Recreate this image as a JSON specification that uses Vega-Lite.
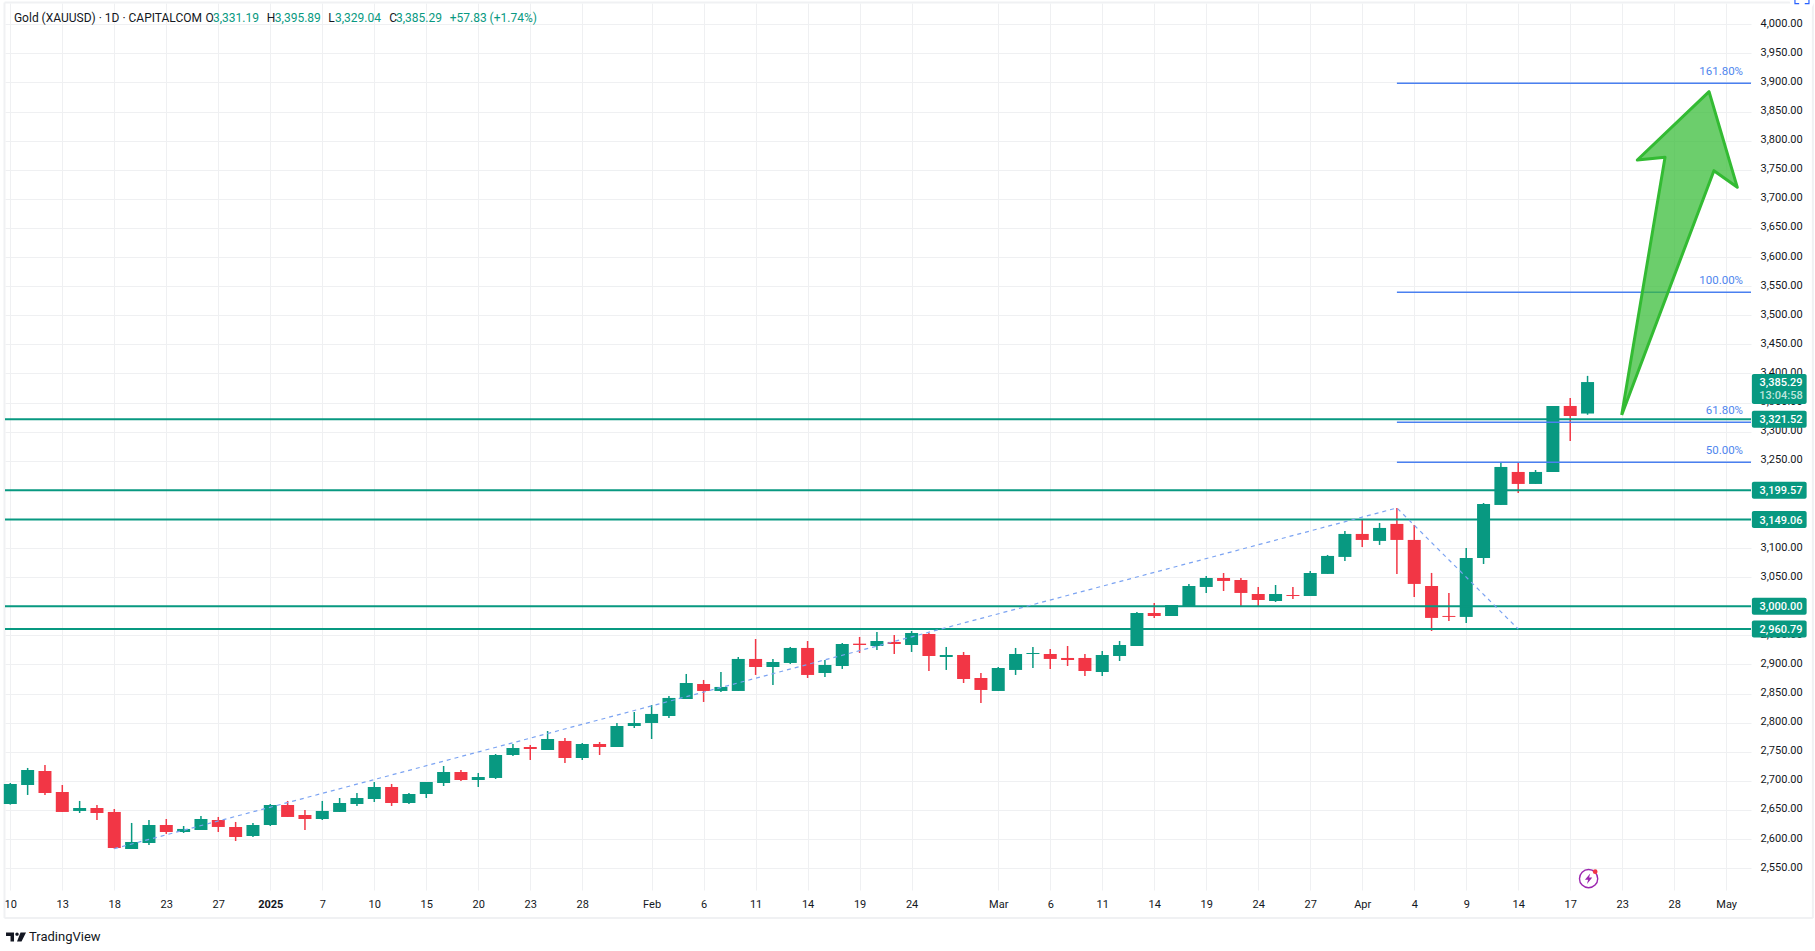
{"$schema":"https://vega.github.io/schema/vega-lite/v6.json","autosize":{"type":"none"},"width":1746,"height":887,"padding":{"left":5,"top":3,"right":64,"bottom":61},"background":"white","view":{"stroke":null},"config":{"font":"Roboto","axis":{"labelFont":"Roboto","labelFontSize":11,"labelColor":"#131722","gridColor":"#eff0f2","gridWidth":1,"domain":false,"ticks":false,"title":null,"labelOverlap":false}},"resolve":{"scale":{"color":"independent"},"axis":{"x":"independent","y":"independent"}},"datasets":{"candles":[
{"bar":0,"open":2660.3,"high":2696.4,"low":2659.2,"close":2694.7},
{"bar":1,"open":2692.9,"high":2722.2,"low":2675.8,"close":2718.7},
{"bar":2,"open":2717,"high":2727.3,"low":2675.8,"close":2679.2},
{"bar":3,"open":2680.9,"high":2692.9,"low":2646.6,"close":2646.6},
{"bar":4,"open":2648.3,"high":2665.5,"low":2644.8,"close":2653.4},
{"bar":5,"open":2653.4,"high":2658.6,"low":2632.8,"close":2644.8},
{"bar":6,"open":2646.6,"high":2651.7,"low":2583.6,"close":2584.7},
{"bar":7,"open":2583,"high":2627.7,"low":2583,"close":2595},
{"bar":8,"open":2593.3,"high":2632.8,"low":2589.9,"close":2624.2},
{"bar":9,"open":2624.2,"high":2634.5,"low":2608.8,"close":2612.2},
{"bar":10,"open":2612.2,"high":2622.5,"low":2610.5,"close":2617.4},
{"bar":11,"open":2615.6,"high":2639.7,"low":2615.6,"close":2634.5},
{"bar":12,"open":2632.8,"high":2638,"low":2612.2,"close":2620.8},
{"bar":13,"open":2620.8,"high":2629.4,"low":2596.7,"close":2603.6},
{"bar":14,"open":2605.3,"high":2627.7,"low":2603.6,"close":2624.2},
{"bar":15,"open":2624.2,"high":2660.3,"low":2622.5,"close":2658.6},
{"bar":16,"open":2658.6,"high":2665.5,"low":2638,"close":2638},
{"bar":17,"open":2641.4,"high":2650,"low":2615.6,"close":2634.5},
{"bar":18,"open":2634.5,"high":2665.5,"low":2632.8,"close":2648.3},
{"bar":19,"open":2646.6,"high":2670.6,"low":2646.6,"close":2662},
{"bar":20,"open":2660.3,"high":2679.2,"low":2656.9,"close":2670.6},
{"bar":21,"open":2668.9,"high":2698.1,"low":2663.7,"close":2689.5},
{"bar":22,"open":2689.5,"high":2694.7,"low":2656.9,"close":2662},
{"bar":23,"open":2662,"high":2679.2,"low":2660.3,"close":2677.5},
{"bar":24,"open":2677.5,"high":2698.1,"low":2670.6,"close":2698.1},
{"bar":25,"open":2696.4,"high":2725.6,"low":2691.2,"close":2715.3},
{"bar":26,"open":2715.3,"high":2718.7,"low":2699.8,"close":2701.5},
{"bar":27,"open":2701.5,"high":2713.6,"low":2689.5,"close":2706.7},
{"bar":28,"open":2705,"high":2746.2,"low":2703.3,"close":2744.5},
{"bar":29,"open":2744.5,"high":2763.4,"low":2742.8,"close":2756.5},
{"bar":30,"open":2758.2,"high":2761.7,"low":2735.9,"close":2754.8},
{"bar":31,"open":2753.1,"high":2785.7,"low":2753.1,"close":2772},
{"bar":32,"open":2768.6,"high":2773.7,"low":2730.7,"close":2739.3},
{"bar":33,"open":2739.3,"high":2765.1,"low":2735.9,"close":2763.4},
{"bar":34,"open":2763.4,"high":2766.8,"low":2744.5,"close":2758.2},
{"bar":35,"open":2758.2,"high":2799.5,"low":2758.2,"close":2794.3},
{"bar":36,"open":2794.3,"high":2818.4,"low":2790.9,"close":2799.5},
{"bar":37,"open":2799.5,"high":2830.4,"low":2772,"close":2815},
{"bar":38,"open":2811.5,"high":2845.9,"low":2808.1,"close":2842.5},
{"bar":39,"open":2840.7,"high":2883.7,"low":2840.7,"close":2868.2},
{"bar":40,"open":2866.5,"high":2873.4,"low":2835.6,"close":2854.5},
{"bar":41,"open":2854.5,"high":2887.1,"low":2852.8,"close":2861.4},
{"bar":42,"open":2854.5,"high":2912.9,"low":2854.5,"close":2909.5},
{"bar":43,"open":2909.5,"high":2943.8,"low":2882,"close":2895.7},
{"bar":44,"open":2895.7,"high":2909.5,"low":2864.8,"close":2904.3},
{"bar":45,"open":2902.6,"high":2930.1,"low":2900.9,"close":2928.4},
{"bar":46,"open":2928.4,"high":2940.4,"low":2876.8,"close":2882},
{"bar":47,"open":2885.4,"high":2907.7,"low":2878.5,"close":2899.1},
{"bar":48,"open":2897.4,"high":2936.9,"low":2892.3,"close":2935.2},
{"bar":49,"open":2935.8,"high":2947.3,"low":2919.8,"close":2933.5},
{"bar":50,"open":2931.8,"high":2955.8,"low":2924.9,"close":2940.4},
{"bar":51,"open":2938.7,"high":2950.7,"low":2918,"close":2935.2},
{"bar":52,"open":2933.5,"high":2957.6,"low":2921.5,"close":2954.1},
{"bar":53,"open":2952.4,"high":2954.1,"low":2888.8,"close":2914.6},
{"bar":54,"open":2912.9,"high":2930.1,"low":2890.6,"close":2916.3},
{"bar":55,"open":2916.3,"high":2921.5,"low":2868.2,"close":2875.1},
{"bar":56,"open":2876.8,"high":2885.4,"low":2833.9,"close":2856.2},
{"bar":57,"open":2854.5,"high":2895.7,"low":2854.5,"close":2894},
{"bar":58,"open":2890.6,"high":2928.4,"low":2882,"close":2918},
{"bar":59,"open":2918,"high":2930.1,"low":2894,"close":2919.8},
{"bar":60,"open":2918,"high":2926.6,"low":2892.3,"close":2909.5},
{"bar":61,"open":2911.2,"high":2931.8,"low":2897.4,"close":2907.7},
{"bar":62,"open":2911.2,"high":2918,"low":2880.2,"close":2888.8},
{"bar":63,"open":2887.1,"high":2923.2,"low":2880.2,"close":2916.3},
{"bar":64,"open":2914.6,"high":2940.4,"low":2906,"close":2933.5},
{"bar":65,"open":2931.8,"high":2990.2,"low":2931.8,"close":2988.5},
{"bar":66,"open":2988.5,"high":3005.7,"low":2979.9,"close":2983.3},
{"bar":67,"open":2983.3,"high":3002.2,"low":2983.3,"close":3002.2},
{"bar":68,"open":3000.5,"high":3038.3,"low":3000.5,"close":3034.9},
{"bar":69,"open":3033.2,"high":3052.1,"low":3022.9,"close":3048.6},
{"bar":70,"open":3048.6,"high":3057.2,"low":3026.3,"close":3043.5},
{"bar":71,"open":3045.2,"high":3048.6,"low":3000.5,"close":3022.9},
{"bar":72,"open":3021.1,"high":3033.2,"low":3000.5,"close":3010.8},
{"bar":73,"open":3009.1,"high":3036.6,"low":3007.4,"close":3021.1},
{"bar":74,"open":3019.4,"high":3033.2,"low":3012.5,"close":3017.7},
{"bar":75,"open":3017.7,"high":3060.7,"low":3017.7,"close":3057.2},
{"bar":76,"open":3055.6,"high":3088.2,"low":3055.6,"close":3086.5},
{"bar":77,"open":3084.8,"high":3129.4,"low":3077.9,"close":3124.3},
{"bar":78,"open":3124.3,"high":3150,"low":3102,"close":3114},
{"bar":79,"open":3112.3,"high":3143.2,"low":3105.4,"close":3134.6},
{"bar":80,"open":3141.5,"high":3169,"low":3055.6,"close":3114},
{"bar":81,"open":3114,"high":3139.8,"low":3016,"close":3038.4},
{"bar":82,"open":3034.9,"high":3057.3,"low":2957.6,"close":2980},
{"bar":83,"open":2983.4,"high":3022.9,"low":2974.8,"close":2981.7},
{"bar":84,"open":2981.7,"high":3100.2,"low":2971.4,"close":3083},
{"bar":85,"open":3083,"high":3177.5,"low":3072.7,"close":3175.8},
{"bar":86,"open":3174.1,"high":3246.3,"low":3174.1,"close":3239.4},
{"bar":87,"open":3230.8,"high":3246.3,"low":3194.7,"close":3210.2},
{"bar":88,"open":3210.2,"high":3234.2,"low":3210.2,"close":3230.8},
{"bar":89,"open":3230.8,"high":3344.2,"low":3230.8,"close":3344.2},
{"bar":90,"open":3344.2,"high":3358,"low":3284.1,"close":3327},
{"bar":91,"open":3331.19,"high":3395.89,"low":3329.04,"close":3385.29}
],"levels":[{"price":3321.52,"label":"3,321.52"},{"price":3199.57,"label":"3,199.57"},{"price":3149.06,"label":"3,149.06"},{"price":3000,"label":"3,000.00"},{"price":2960.79,"label":"2,960.79"}]},
"layer":[
{"data":{"values":[{"bar":-0.335,"bar2":104,"price":4037.5,"price2":4037.5},{"bar":-0.335,"bar2":104,"price":2464.5,"price2":2464.5},{"bar":-0.335,"bar2":-0.335,"price":4037.5,"price2":2464.5},{"bar":104,"bar2":104,"price":4037.5,"price2":2464.5}]},
"mark":{"type":"rule","color":"#f0f1f3","strokeWidth":2},
"encoding":{"x":{"field":"bar","type":"quantitative","scale":{"domain":[-0.306,100.43],"nice":false,"zero":false,"padding":0},"axis":{"title":null,"grid":true,"orient":"bottom","values":[0,3,6,9,12,15,18,21,24,27,30,33,37,40,43,46,49,52,57,60,63,66,69,72,75,78,81,84,87,90,93,96,99],"labelExpr":"({'0':'10','3':'13','6':'18','9':'23','12':'27','15':'2025','18':'7','21':'10','24':'15','27':'20','30':'23','33':'28','37':'Feb','40':'6','43':'11','46':'14','49':'19','52':'24','57':'Mar','60':'6','63':'11','66':'14','69':'19','72':'24','75':'27','78':'Apr','81':'4','84':'9','87':'14','90':'17','93':'23','96':'28','99':'May'})[''+datum.value]","labelFontWeight":{"condition":{"test":"datum.value===15","value":"bold"},"value":"normal"},"labelOverlap":false,"labelFlush":false,"labelAngle":0,"labelPadding":8},"title":null},"x2":{"field":"bar2"},"y":{"field":"price","type":"quantitative","scale":{"domain":[2512.5,4036.6],"nice":false,"zero":false,"padding":0},"axis":{"title":null,"grid":true,"orient":"right","values":[2550,2600,2650,2700,2750,2800,2850,2900,2950,3000,3050,3100,3150,3200,3250,3300,3350,3400,3450,3500,3550,3600,3650,3700,3750,3800,3850,3900,3950,4000],"format":",.2f","labelOverlap":false,"labelFlush":false,"labelPadding":9,"labelOffset":-1},"title":null},"y2":{"field":"price2"}}},
{"data":{"name":"candles"},"mark":{"type":"rule","strokeWidth":1.5},"encoding":{"x":{"field":"bar","type":"quantitative","axis":null},"y":{"field":"low","type":"quantitative","axis":null},"y2":{"field":"high"},"color":{"condition":{"test":"datum.close>=datum.open","value":"#089981"},"value":"#F23645"}}},
{"data":{"name":"candles"},"mark":{"type":"bar","size":13},"encoding":{"x":{"field":"bar","type":"quantitative","axis":null},"y":{"field":"open","type":"quantitative","axis":null},"y2":{"field":"close"},"color":{"condition":{"test":"datum.close>=datum.open","value":"#089981"},"value":"#F23645"}}},
{"data":{"name":"levels"},"mark":{"type":"rule","color":"#089981","strokeWidth":2},"encoding":{"y":{"field":"price","type":"quantitative","axis":null}}},
{"data":{"values":[{"ratio":"161.80%","start":80,"price":3898.6},{"ratio":"100.00%","start":80,"price":3539.5},{"ratio":"61.80%","start":80,"price":3316.2},{"ratio":"50.00%","start":80,"price":3247.4}]},"mark":{"type":"rule","color":"#4a80f0","strokeWidth":1.5},"encoding":{"x":{"field":"start","type":"quantitative","axis":null},"x2":{"datum":100.43},"y":{"field":"price","type":"quantitative","axis":null}}},
{"data":{"values":[{"ratio":"161.80%","bar":99.97,"price":3920.3},{"ratio":"100.00%","bar":99.97,"price":3561.9},{"ratio":"61.80%","bar":99.97,"price":3338.5},{"ratio":"50.00%","bar":99.97,"price":3269.7}]},"mark":{"type":"text","align":"right","baseline":"middle","fontSize":11.5,"color":"#4f86ee","dy":1.5},"encoding":{"x":{"field":"bar","type":"quantitative","axis":null},"y":{"field":"price","type":"quantitative","axis":null},"text":{"field":"ratio"}}},
{"data":{"values":[{"seq":1,"bar":6,"price":2583.6},{"seq":2,"bar":80,"price":3169},{"seq":3,"bar":87,"price":2960.8}]},"mark":{"type":"line","color":"#7ba3f2","strokeWidth":1.2,"strokeDash":[4,4]},"encoding":{"x":{"field":"bar","type":"quantitative","axis":null},"y":{"field":"price","type":"quantitative","axis":null},"order":{"field":"seq"}}},
{"data":{"values":[{"seq":1,"bar":92.97,"price":3328.7},{"seq":2,"bar":95.47,"price":3771.5},{"seq":3,"bar":93.87,"price":3766.8},{"seq":4,"bar":98.01,"price":3884.2},{"seq":5,"bar":99.64,"price":3719.9},{"seq":6,"bar":98.29,"price":3748.5},{"seq":7,"bar":92.97,"price":3328.7}]},"mark":{"type":"line","fill":"#33bb33","fillOpacity":0.72,"stroke":"#33bb33","strokeWidth":3,"strokeJoin":"round"},"encoding":{"x":{"field":"bar","type":"quantitative","axis":null},"y":{"field":"price","type":"quantitative","axis":null},"order":{"field":"seq"}}},
{"data":{"name":"levels"},"mark":{"type":"bar","size":17,"color":"#089981","cornerRadius":2},"encoding":{"x":{"datum":100.48,"axis":null},"x2":{"datum":103.64},"y":{"field":"price","type":"quantitative","axis":null}}},
{"data":{"name":"levels"},"mark":{"type":"text","align":"center","baseline":"middle","fontSize":11,"color":"white","fontWeight":500,"dy":1},"encoding":{"x":{"datum":102.16,"axis":null},"y":{"field":"price","type":"quantitative","axis":null},"text":{"field":"label"}}},
{"data":{"values":[{"top":3399.1,"bottom":3347.6}]},"mark":{"type":"rect","color":"#089981","cornerRadius":2},"encoding":{"x":{"datum":100.48,"axis":null},"x2":{"datum":103.64},"y":{"field":"top","type":"quantitative","axis":null},"y2":{"field":"bottom"}}},
{"data":{"values":[{"label":"3,385.29","price":3385.4,"kind":"price"},{"label":"13:04:58","price":3363,"kind":"countdown"}]},"mark":{"type":"text","align":"center","baseline":"middle","fontSize":11,"fontWeight":500,"dy":1},"encoding":{"x":{"datum":102.16,"axis":null},"y":{"field":"price","type":"quantitative","axis":null},"text":{"field":"label"},"color":{"field":"kind","type":"nominal","scale":{"domain":["price","countdown"],"range":["#ffffff","#bfe5dc"]},"legend":null}}},
{"data":{"values":[{"label":"Gold (XAUUSD) · 1D · CAPITALCOM","bar":0.21,"kind":"head"},{"label":"O","bar":11.26,"kind":"head"},{"label":"3,331.19","bar":11.69,"kind":"value"},{"label":"H","bar":14.79,"kind":"head"},{"label":"3,395.89","bar":15.26,"kind":"value"},{"label":"L","bar":18.35,"kind":"head"},{"label":"3,329.04","bar":18.73,"kind":"value"},{"label":"C","bar":21.86,"kind":"head"},{"label":"3,385.29","bar":22.25,"kind":"value"},{"label":"+57.83 (+1.74%)","bar":25.35,"kind":"value"}]},"mark":{"type":"text","align":"left","baseline":"middle","fontSize":12},"encoding":{"x":{"field":"bar","type":"quantitative","axis":null},"y":{"datum":4010.8,"axis":null},"text":{"field":"label"},"color":{"field":"kind","type":"nominal","scale":{"domain":["head","value"],"range":["#131722","#089981"]},"legend":null}}},
{"data":{"values":[{"label":"TradingView","bar":1.08,"price":2431.8}]},"mark":{"type":"text","align":"left","baseline":"middle","fontSize":13,"color":"#131722"},"encoding":{"x":{"field":"bar","type":"quantitative","axis":null},"y":{"field":"price","type":"quantitative","axis":null},"text":{"field":"label"}}},
{"data":{"values":[{"bar":0.33,"price":2431.8}]},"mark":{"type":"point","filled":true,"color":"#131722","opacity":1,"size":400,"shape":"M-1,-.45 H-.2 V.45 H-.55 V-.1 H-1 Z M.45,-.45 H1 L.55,.45 H.1 Z M.1,-.45 A.17,.17 0 1 1 .1,-.11 A.17,.17 0 1 1 .1,-.45 Z"},"encoding":{"x":{"field":"bar","type":"quantitative","axis":null},"y":{"field":"price","type":"quantitative","axis":null}}},
{"data":{"values":[{"bar":91.06,"price":2532}]},"mark":{"type":"point","shape":"circle","filled":false,"color":"#9c27b0","opacity":1,"strokeWidth":1.4,"size":333},"encoding":{"x":{"field":"bar","type":"quantitative","axis":null},"y":{"field":"price","type":"quantitative","axis":null}}},
{"data":{"values":[{"bar":91.06,"price":2532}]},"mark":{"type":"point","filled":true,"color":"#9c27b0","opacity":1,"size":110,"shape":"M.3,-1 L-.7,.2 H-.1 L-.3,1 L.7,-.2 H.1 Z"},"encoding":{"x":{"field":"bar","type":"quantitative","axis":null},"y":{"field":"price","type":"quantitative","axis":null}}},
{"data":{"values":[{"bar":91.44,"price":2544}]},"mark":{"type":"point","shape":"circle","filled":true,"color":"#f23645","opacity":1,"size":22},"encoding":{"x":{"field":"bar","type":"quantitative","axis":null},"y":{"field":"price","type":"quantitative","axis":null}}},
{"data":{"values":[{"bar":103.37,"price":4042.6}]},"mark":{"type":"point","shape":"circle","filled":true,"color":"white","opacity":1,"size":615},"encoding":{"x":{"field":"bar","type":"quantitative","axis":null},"y":{"field":"price","type":"quantitative","axis":null}}},
{"data":{"values":[{"bar":103.37,"price":4042.6}]},"mark":{"type":"point","filled":false,"color":"#2962ff","opacity":1,"strokeWidth":1.2,"size":196,"shape":"M-1,-.6 V.6 H-.4 M.4,.6 H1 V-.6"},"encoding":{"x":{"field":"bar","type":"quantitative","axis":null},"y":{"field":"price","type":"quantitative","axis":null}}}
]}
